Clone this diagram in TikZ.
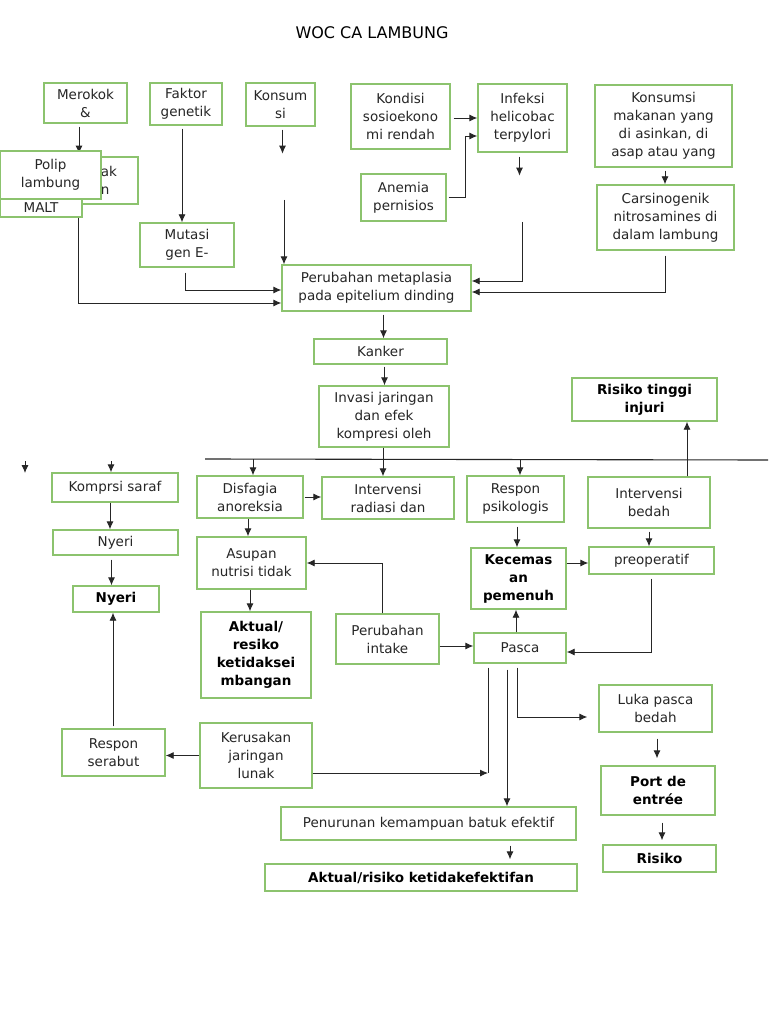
\documentclass[tikz,border=0pt]{standalone}
\usepackage{fontspec}
\setmainfont{DejaVu Sans}
\usetikzlibrary{calc, arrows.meta}
\definecolor{wocgreen}{RGB}{140,195,110}

\begin{document}
\begin{tikzpicture}[x=1pt, y=-1pt,
    box/.style={draw=wocgreen, line width=1.4pt, fill=white, align=center, inner sep=0pt,
        text=black!85, font=\fontsize{13.5}{18}\selectfont},
    bbox/.style={box, text=black, font=\bfseries\fontsize{13.5}{18}\selectfont},
    sz/.style 2 args={minimum width=#1pt, minimum height=#2pt},
    line/.style={draw=black!85, line width=0.9pt},
    arr/.style={line, -{Latex[length=8pt,width=7pt]}}]
    \useasboundingbox[fill=white] (0,0) rectangle (768,1024);

    % 1. Title
    \node[font=\fontsize{16}{18}\selectfont] (title) at (372,33) {WOC CA LAMBUNG};

    % 2. Causes (top row)
    \node[box, sz={83}{40}] (merokok) at (85.5,103) {Merokok\\\&};
    \node[box, sz={72}{42}] (faktor) at (186,104) {Faktor\\genetik};
    \node[box, sz={69}{43}] (konsumsi) at (280.5,104.5) {Konsum\\si};
    \node[box, sz={99}{65}] (kondisi) at (400.5,116.5) {Kondisi\\sosioekono\\mi rendah};
    \node[box, sz={89}{68}] (infeksi) at (522.5,118) {Infeksi\\helicobac\\terpylori};
    \node[box, sz={137}{82}] (makanan) at (663.5,126) {Konsumsi\\makanan yang\\di asinkan, di\\asap atau yang};
    \node[box, sz={137}{65}] (carsino) at (665.5,217.5) {Carsinogenik\\nitrosamines di\\dalam lambung};
    \node[box, sz={85}{47}] (anemia) at (403.5,197.5) {Anemia\\pernisios};

    % box half hidden behind the polip box
    \node[box, sz={58}{47}, align=left] (alkohol) at (109,180.5) {ak\\n};
    \draw[arr] ($(merokok.south)+(-6.5,3)$) coordinate (m0) -- ++(0,27);
    \node[box, sz={101}{48}] (polip) at (50.5,175) {Polip\\lambung};
    \node[box, sz={82}{18}] (malt) at (41,208) {MALT};

    \node[box, sz={94}{44}] (mutasi) at (187,245) {Mutasi\\gen E-};

    % 3. Main chain
    \node[box, sz={189}{46}] (perubahan) at (376.5,288) {Perubahan metaplasia\\pada epitelium dinding};
    \node[box, sz={133}{25}] (kanker) at (380.5,351.5) {Kanker};
    \node[box, sz={130}{61}] (invasi) at (384,416.5) {Invasi jaringan\\dan efek\\kompresi oleh};
    \node[bbox, sz={145}{43}] (risikotinggi) at (644.5,399.5) {Risiko tinggi\\injuri};

    % 4. Branches
    \node[box, sz={126}{29}] (komprsi) at (115,487.5) {Komprsi saraf};
    \node[box, sz={106}{42}] (disfagia) at (250,497) {Disfagia\\anoreksia};
    \node[box, sz={132}{42}] (radiasi) at (388,498) {Intervensi\\radiasi dan};
    \node[box, sz={97}{46}] (respon) at (515.5,499) {Respon\\psikologis};
    \node[box, sz={122}{51}] (bedah) at (649,502.5) {Intervensi\\bedah};

    \node[box, sz={125}{25}] (nyeri) at (115.5,542.5) {Nyeri};
    \node[bbox, sz={86}{26}] (nyeribold) at (116,599) {Nyeri};
    \node[box, sz={109}{52}] (asupan) at (251.5,563) {Asupan\\nutrisi tidak};
    \node[bbox, sz={110}{86}] (aktual) at (256,655) {Aktual/\\resiko\\ketidaksei\\mbangan};
    \node[box, sz={103}{50}] (intake) at (387.5,639) {Perubahan\\intake};
    \node[bbox, sz={95}{61}] (kecemasan) at (518.5,578.5) {Kecemas\\an\\pemenuh};
    \node[box, sz={125}{27}] (preop) at (651.5,560.5) {preoperatif};
    \node[box, sz={92}{30}] (pasca) at (520,648) {Pasca};

    \node[box, sz={113}{47}] (luka) at (655.5,708.5) {Luka pasca\\bedah};
    \node[bbox, sz={114}{49}] (port) at (658,790.5) {Port de\\entrée};
    \node[bbox, sz={113}{27}] (risiko) at (659.5,858.5) {Risiko};
    \node[box, sz={295}{33}] (penurunan) at (428.5,823.5) {Penurunan kemampuan batuk efektif};
    \node[bbox, sz={312}{27}] (aktualdua) at (421,877.5) {Aktual/risiko ketidakefektifan};
    \node[box, sz={103}{47}] (serabut) at (113.5,752.5) {Respon\\serabut};
    \node[box, sz={112}{65}] (kerusakan) at (256,755.5) {Kerusakan\\jaringan\\lunak};

    % 5. Connectors, top part
    \draw[arr] ($(malt.south east)+(-4,0)$) |- ($(perubahan.west)+(0,15)$);
    \draw[arr] ($(mutasi.south)+(-2,5)$) |- ($(perubahan.west)+(0,2)$);
    \draw[arr] ($(faktor.south)+(-4,3)$) coordinate (f0) -- (f0 |- mutasi.north);
    \draw[arr] ($(konsumsi.south)+(2,3)$) -- ++(0,24);
    \coordinate (kgap) at (284,200);
    \draw[arr] (kgap) -- (kgap |- perubahan.north);
    \draw[arr] ($(kondisi.east)+(3,1.5)$) coordinate (k0) -- (k0 -| infeksi.west);
    \draw[arr] ($(anemia.east)+(2,0)$) -- ++(17,0) |- ($(infeksi.west)+(0,18)$);
    \draw[arr] ($(infeksi.south)+(-3,4)$) -- ++(0,19);
    \coordinate (igap) at (522,222);
    \draw[arr] (igap) |- ($(perubahan.east)+(0,-7)$);
    \draw[arr] ($(makanan.south)+(1.5,3)$) coordinate (c0) -- (c0 |- carsino.north);
    \draw[arr] ($(carsino.south)+(-0.5,5)$) |- ($(perubahan.east)+(0,4)$);
    \draw[arr] ($(perubahan.south)+(7,3)$) coordinate (p0) -- (p0 |- kanker.north);
    \draw[arr] ($(kanker.south)+(4,2)$) coordinate (p1) -- (p1 |- invasi.north);

    % 6. Split line and its branches
    \coordinate (hl) at (205,459);
    \coordinate (hr) at (768,460);
    \draw[line, line width=1.1pt] (hl) -- (hr);
    \draw[arr] ($(invasi.south)+(-1,0)$) coordinate (i1) -- (i1 |- radiasi.north);
    \coordinate (d0) at (253,459);
    \draw[arr] (d0) -- (d0 |- disfagia.north);
    \coordinate (r0) at (520,459);
    \draw[arr] (r0) -- (r0 |- respon.north);
    \draw[arr] ($(bedah.north)+(38,0)$) coordinate (b0) -- (b0 |- risikotinggi.south);
    \coordinate (s0) at (111,461);
    \draw[arr] (s0) -- (s0 |- komprsi.north);
    \coordinate (s1) at (25,461);
    \draw[arr] (s1) -- ++(0,12);

    % 7. Connectors, lower part
    \draw[arr] ($(disfagia.east)+(1,0)$) coordinate (e0) -- (e0 -| radiasi.west);
    \draw[arr] ($(komprsi.south)+(-5,0)$) coordinate (n0) -- (n0 |- nyeri.north);
    \draw[arr] ($(nyeri.south)+(-4,4)$) coordinate (n1) -- (n1 |- nyeribold.north);
    \draw[arr] ($(disfagia.south)+(-2,0)$) coordinate (a0) -- (a0 |- asupan.north);
    \draw[arr] ($(asupan.south)+(-1.5,0)$) coordinate (a1) -- (a1 |- aktual.north);
    \draw[arr] ($(intake.north)+(-5.5,0)$) |- (asupan.east);
    \draw[arr] ($(intake.east)+(0,7)$) coordinate (t0) -- (t0 -| pasca.west);
    \draw[arr] ($(respon.south)+(1.5,4)$) coordinate (q0) -- (q0 |- kecemasan.north);
    \draw[arr] ($(kecemasan.east)+(0,-15.5)$) coordinate (q1) -- (q1 -| preop.west);
    \draw[arr] ($(bedah.south)+(0,3)$) coordinate (q2) -- (q2 |- preop.north);
    \draw[arr] ($(pasca.north)+(-4,0)$) coordinate (q3) -- (q3 |- kecemasan.south);
    \draw[arr] ($(preop.south)+(-0.5,4)$) |- ($(pasca.east)+(0,4)$);

    \coordinate (pk) at (488,773);
    \draw[line] ($(pasca.south)+(-32,4)$) -- (pk);
    \draw[arr] ($(kerusakan.east)+(0,17.5)$) -- (pk);
    \draw[arr] ($(pasca.south)+(-13,6)$) coordinate (u0) -- (u0 |- penurunan.north);
    \draw[arr] ($(pasca.south)+(-3,4)$) |- ($(luka.west)+(-11,8.5)$);
    \draw[arr, shorten >=7pt] ($(luka.south)+(1.5,6)$) coordinate (u1) -- (u1 |- port.north);
    \draw[arr, shorten >=4pt] ($(port.south)+(4,7)$) coordinate (u2) -- (u2 |- risiko.north);
    \draw[arr, shorten >=4pt] ($(penurunan.south)+(81.5,5)$) coordinate (u3) -- (u3 |- aktualdua.north);
    \draw[arr] (kerusakan.west) -- (kerusakan.west -| serabut.east);
    \draw[arr] ($(serabut.north)+(-0.5,-2)$) coordinate (u4) -- (u4 |- nyeribold.south);
\end{tikzpicture}
\end{document}
